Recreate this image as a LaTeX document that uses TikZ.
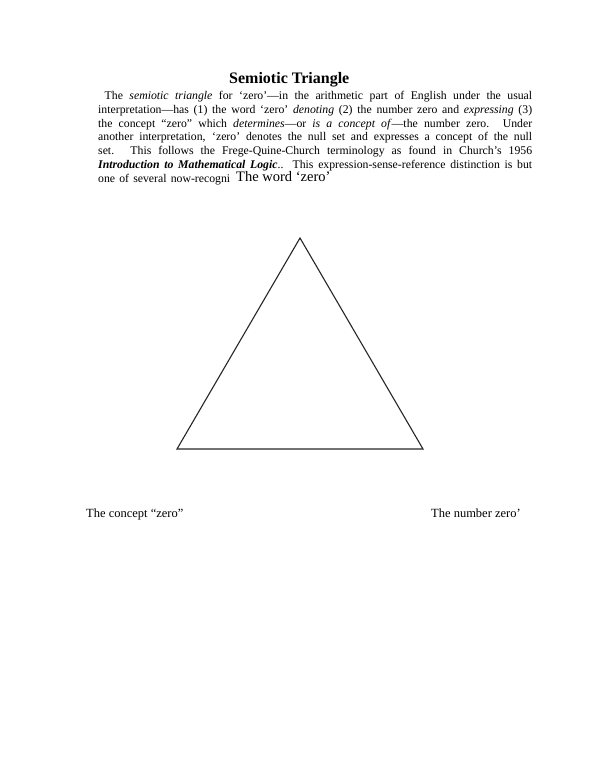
\documentclass[tikz,border=0pt]{standalone}
\usepackage{fontspec}
\setmainfont{Liberation Serif}
\usepackage{tikz}
\usetikzlibrary{positioning}
\tikzstyle{para}=[anchor=base west,inner sep=0pt,font=\fontsize{11.76}{13.5}\selectfont]
\tikzstyle{corner}=[font=\fontsize{12.5}{14}\selectfont,inner sep=1pt]
\tikzstyle{side}=[line width=1.1pt,black!85]
\newcommand\jline[1]{\makebox[434pt][s]{#1}}

\begin{document}
\begin{tikzpicture}[x=1pt,y=-1pt]
	\useasboundingbox (0,0) rectangle (600,776);
	\node[anchor=base west,inner sep=0pt,font=\bfseries\fontsize{16}{19}\selectfont] (title) at (229,84) {Semiotic Triangle};
	\node[para] (l1) at (98,99.5) {\jline{\ The \textit{semiotic triangle} for ‘zero’—in the arithmetic part of English under the usual}};
	\node[para] (l2) at (98,113.3) {\jline{interpretation—has (1) the word ‘zero’ \textit{denoting} (2) the number zero and \textit{expressing} (3)}};
	\node[para] (l3) at (98,127.1) {\jline{the concept “zero” which \textit{determines}—or \textit{is a concept of}—the number zero. Under}};
	\node[para] (l4) at (98,140.9) {\jline{another interpretation, ‘zero’ denotes the null set and expresses a concept of the null}};
	\node[para] (l5) at (98,154.7) {\jline{set. This follows the Frege-Quine-Church terminology as found in Church’s 1956}};
	\node[para] (l6) at (98,168.5) {\jline{\textbf{\textit{Introduction to Mathematical Logic}}.. This expression-sense-reference distinction is but}};
	\node[para] (l7) at (98,182.3) {\makebox[132pt][s]{one of several now-recogni}};
	% corners of the triangle
	\coordinate (word)    at (300,238);
	\coordinate (concept) at (177,449);
	\coordinate (number)  at (423,449);
	\draw[side] (word) -- (concept) -- (number) -- cycle;
	\node[corner,anchor=base west,font=\fontsize{14.5}{16}\selectfont] (wordlab) at (235,181.5) {The word ‘zero’};
	\node[corner,anchor=base west] (conceptlab) at (85,517) {The concept “zero”};
	\node[corner,anchor=base west] (numberlab) at (430,517) {The number zero’};
\end{tikzpicture}
\end{document}
